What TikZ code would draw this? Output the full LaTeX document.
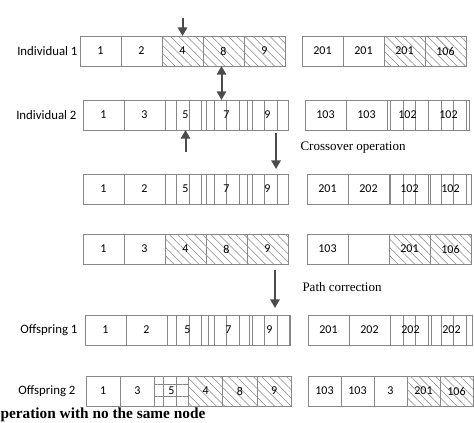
\documentclass[tikz,border=0pt]{standalone}
\usepackage{fontspec}
\setmainfont{Liberation Serif}
\newfontfamily\calfont{Carlito}
\usetikzlibrary{positioning,patterns.meta,arrows.meta}

\definecolor{boxgray}{RGB}{135,135,135}
\definecolor{arrgray}{RGB}{75,75,75}

\tikzset{every picture/.style={line width=0.75pt}}
\tikzset{
  cell/.style={draw=boxgray, anchor=north west, minimum width=30.75pt, minimum height=22.5pt, inner sep=0pt, outer sep=0pt, font=\calfont\fontsize{9}{10}\selectfont},
  narrow/.style={cell, minimum width=25.65pt},
  narrower/.style={cell, minimum width=24.75pt},
  hatched/.style={pattern={Lines[angle=-45,distance=4.4pt,line width=0.4pt]}, pattern color=boxgray},
  vlined/.style={pattern={Lines[angle=90,distance=9.45pt,line width=0.6pt]}, pattern color=boxgray},
  gridded/.style={pattern={Hatch[angle=0,distance=9.45pt,line width=0.6pt]}, pattern color=boxgray},
  rowlabel/.style={anchor=east, inner sep=0pt, font=\calfont\fontsize{9.6}{11}\selectfont},
  steplabel/.style={anchor=west, inner sep=0pt, font=\fontsize{9.75}{11}\selectfont},
  arr/.style={draw=arrgray, line width=1.5pt, -{Triangle[length=6.5pt,width=7pt]}},
  darr/.style={draw=arrgray, line width=1.5pt, {Triangle[length=6.5pt,width=7pt]}-{Triangle[length=6.5pt,width=7pt]}}
}

\begin{document}
\begin{tikzpicture}[x=0.75pt,y=0.75pt,yscale=-1,xscale=1]
\useasboundingbox (0,0) rectangle (474,422);

% Individual 1
\node[rowlabel] (l1) at (78,51) {Individual 1};
\node[cell] (i1a) at (80,36) {1};
\node[cell] (i1b) at (121,36) {2};
\node[cell,hatched] (i1c) at (162,36) {4};
\node[cell,hatched] (i1d) at (203,36) {8};
\node[cell,hatched] (i1e) at (244,36) {9};
\node[cell] (i1f) at (302,36) {201};
\node[cell] (i1g) at (343,36) {201};
\node[cell,hatched] (i1h) at (384,36) {201};
\node[cell,hatched] (i1i) at (425,36) {106};

% Individual 2
\node[rowlabel] (l2) at (77,115) {Individual 2};
\node[cell] (i2a) at (83,100) {1};
\node[cell] (i2b) at (124,100) {3};
\node[cell,vlined] (i2c) at (165,100) {5};
\node[cell,vlined] (i2d) at (206,100) {7};
\node[cell,vlined] (i2e) at (247,100) {9};
\node[cell] (i2f) at (305,100) {103};
\node[cell] (i2g) at (346,100) {103};
\node[cell,vlined] (i2h) at (387,100) {102};
\node[cell,vlined] (i2i) at (428,100) {102};

% after crossover, child 1
\node[cell] (x1a) at (83,174) {1};
\node[cell] (x1b) at (124,174) {2};
\node[cell,vlined] (x1c) at (165,174) {5};
\node[cell,vlined] (x1d) at (206,174) {7};
\node[cell,vlined] (x1e) at (247,174) {9};
\node[cell] (x1f) at (307,174) {201};
\node[cell] (x1g) at (348,174) {202};
\node[cell,vlined] (x1h) at (389,174) {102};
\node[cell,vlined] (x1i) at (430,174) {102};

% after crossover, child 2
\node[cell] (x2a) at (83,234) {1};
\node[cell] (x2b) at (124,234) {3};
\node[cell,hatched] (x2c) at (165,234) {4};
\node[cell,hatched] (x2d) at (206,234) {8};
\node[cell,hatched] (x2e) at (247,234) {9};
\node[cell] (x2f) at (307,234) {103};
\node[cell] (x2g) at (348,234) {};
\node[cell,hatched] (x2h) at (389,234) {201};
\node[cell,hatched] (x2i) at (430,234) {106};

% Offspring 1
\node[rowlabel] (l5) at (78,330) {Offspring 1};
\node[cell] (o1a) at (85,315) {1};
\node[cell] (o1b) at (126,315) {2};
\node[cell,vlined] (o1c) at (167,315) {5};
\node[cell,vlined] (o1d) at (208,315) {7};
\node[cell,vlined] (o1e) at (249,315) {9};
\node[cell] (o1f) at (308,315) {201};
\node[cell] (o1g) at (349,315) {202};
\node[cell,vlined] (o1h) at (390,315) {202};
\node[cell,vlined] (o1i) at (431,315) {202};

% Offspring 2
\node[rowlabel] (l6) at (76,391) {Offspring 2};
\node[narrow] (o2a) at (86,376) {1};
\node[narrow] (o2b) at (120.2,376) {3};
\node[narrow,gridded] (o2c) at (154.4,376) {5};
\node[narrow,hatched] (o2d) at (188.6,376) {4};
\node[narrow,hatched] (o2e) at (222.8,376) {8};
\node[narrow,hatched] (o2f) at (257,376) {9};
\node[narrower] (o2g) at (308,376) {103};
\node[narrower] (o2h) at (341,376) {103};
\node[narrower] (o2i) at (374,376) {3};
\node[narrower,hatched] (o2j) at (407,376) {201};
\node[narrower,hatched] (o2k) at (440,376) {106};

% Text Node
\node[steplabel] (cross) at (300,148) {Crossover operation};
% Text Node
\node[steplabel] (pathc) at (302,287) {Path correction};
% Text Node
\node[anchor=base west, inner sep=0pt, font=\bfseries\fontsize{11.5}{13}\selectfont] (cap) at (0,418) {peration with no the same node};

% cut points
\coordinate[above=13.5pt of i1c.north] (in1);
\draw[arr] (in1) -- (i1c.north);
\coordinate[below=16.5pt of i2c.south] (in2);
\draw[arr] (in2) -- (i2c.south);
% exchange
\draw[darr] ([xshift=-1.5pt]i1d.south) -- ([xshift=-1.5pt]i1d.south |- i2d.north);
% crossover operation
\draw[arr, shorten <=2.25pt, shorten >=3.75pt] ([xshift=6.4pt]i2e.south) -- ([xshift=6.4pt]i2e.south |- x1e.north);
% path correction
\draw[arr, shorten <=4.5pt, shorten >=5.25pt] ([xshift=5.6pt]x2e.south) -- ([xshift=5.6pt]x2e.south |- o1e.north);

\end{tikzpicture}
\end{document}
